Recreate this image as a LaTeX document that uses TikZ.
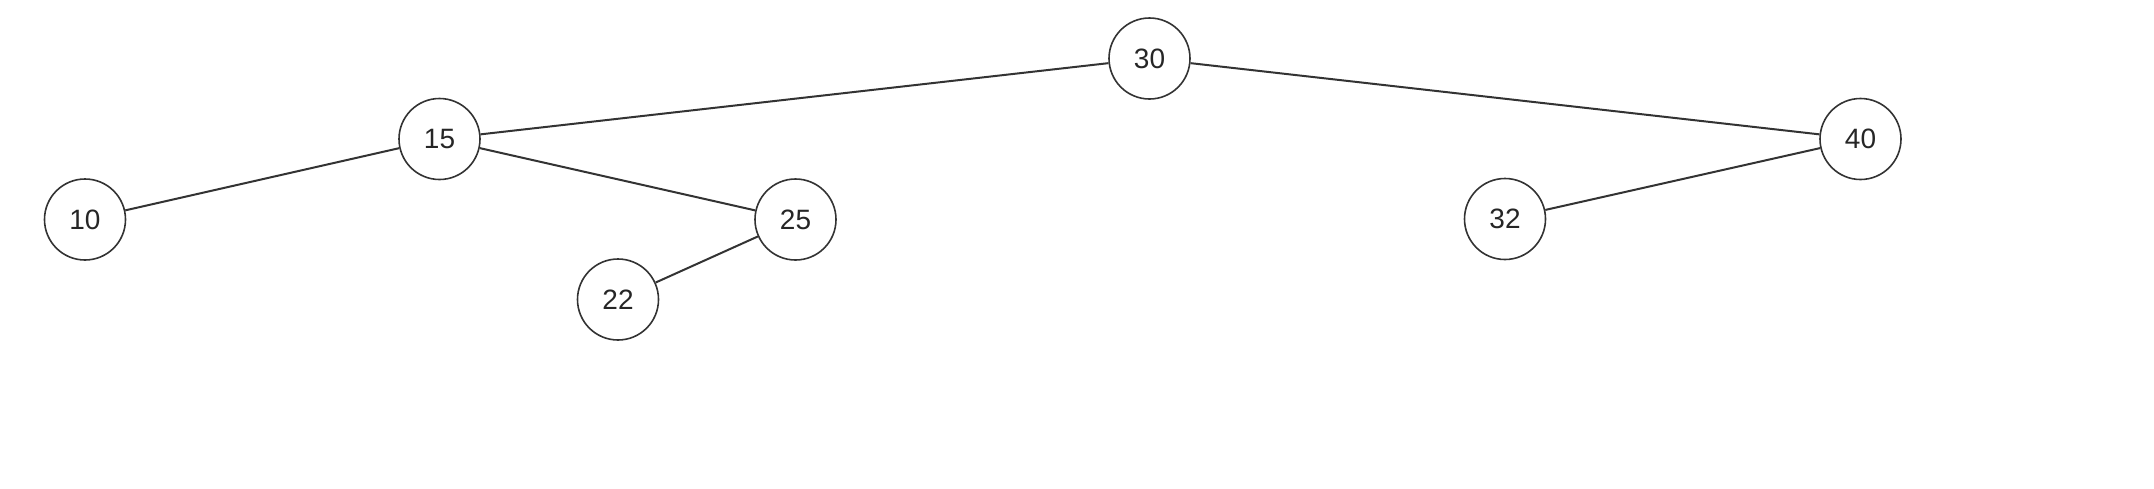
\documentclass[tikz,border=0pt]{standalone}
\usepackage{fontspec}
\setmainfont{Liberation Sans}
\usetikzlibrary{positioning}

\begin{document}
\begin{tikzpicture}[node distance=0cm, on grid]
    \tikzstyle{treenode} = [circle, minimum size=40.5pt, inner sep=0pt, font=\fontsize{14}{16}\selectfont, text=black!85, draw=black!80, line width=0.8pt]
    \tikzstyle{link} = [draw=black!80, line width=1pt]

    \useasboundingbox (0,0) rectangle (1077pt,-244pt);

    \node (n30) [treenode] at (574.75pt,-29.25pt) {30};
    \node (n15) [treenode, below left=40.25pt and 355pt of n30] {15};
    \node (n40) [treenode, below right=40.25pt and 355.5pt of n30] {40};
    \node (n10) [treenode, below left=40.25pt and 177.25pt of n15] {10};
    \node (n25) [treenode, below right=40.25pt and 178pt of n15] {25};
    \node (n22) [treenode, below left=40pt and 88.75pt of n25] {22};
    \node (n32) [treenode, below left=40pt and 177.75pt of n40] {32};

    % edges of the tree
    \draw [link] (n30) -- (n15);
    \draw [link] (n30) -- (n40);
    \draw [link] (n15) -- (n10);
    \draw [link] (n15) -- (n25);
    \draw [link] (n25) -- (n22);
    \draw [link] (n40) -- (n32);
\end{tikzpicture}
\end{document}
